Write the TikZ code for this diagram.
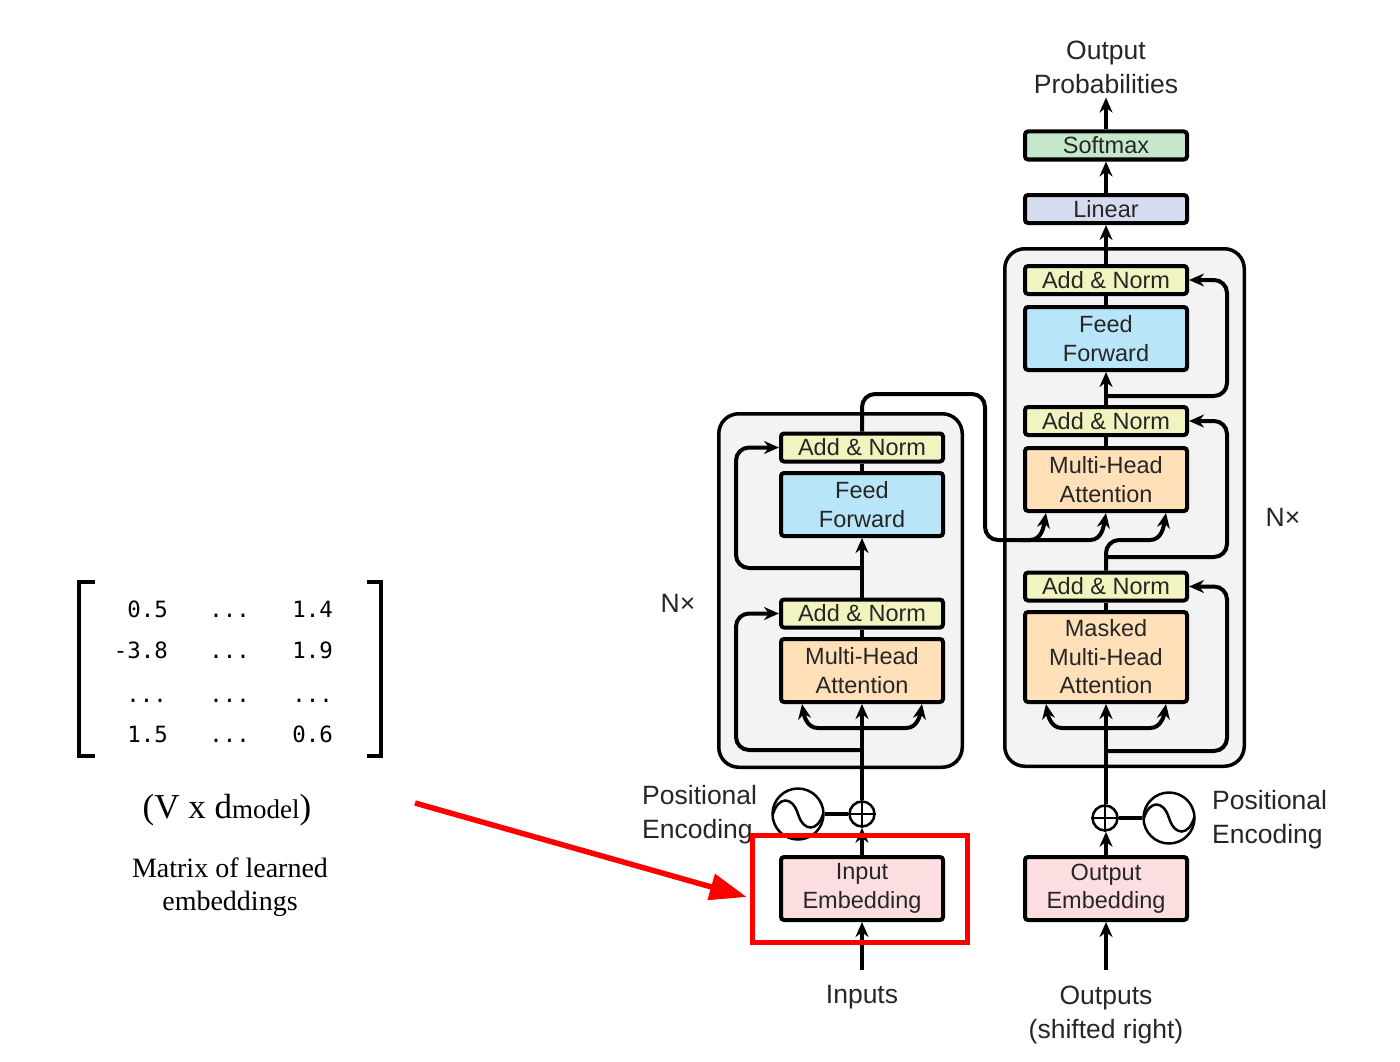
\documentclass[tikz,border=0pt]{standalone}
\usepackage{fontspec}
\setmainfont{Liberation Sans}
\newfontfamily\cellfont{DejaVu Sans Mono}
\newfontfamily\capfont{Liberation Serif}
\usetikzlibrary{arrows.meta, shapes.geometric, positioning}
\pgfdeclarelayer{bg1}
\pgfdeclarelayer{bg2}
\pgfsetlayers{bg2,bg1,main}
\definecolor{normfill}{HTML}{F1F4C0}
\definecolor{ffill}{HTML}{B8E6F8}
\definecolor{attnfill}{HTML}{FFE0B8}
\definecolor{embfill}{HTML}{FDDEE0}
\definecolor{softfill}{HTML}{C5E8CC}
\definecolor{linfill}{HTML}{D6DCF0}
\definecolor{framefill}{HTML}{F3F3F3}
\tikzset{
	box/.style = {rectangle, rounded corners = 3pt, minimum width = 162pt, draw = black, line width = 4pt, inner sep = 0pt, align = center, text = black!85, font = \fontsize{23.5}{28.5}\selectfont},
	norm/.style = {box, minimum height = 28pt, fill = normfill},
	ffwd/.style = {box, minimum height = 63pt, fill = ffill},
	attn/.style = {box, minimum height = 63pt, fill = attnfill},
	emb/.style = {box, minimum height = 63pt, fill = embfill},
	frame/.style = {rectangle, rounded corners = 20pt, draw = black, line width = 3.5pt, fill = framefill},
	label/.style = {inner sep = 0pt, align = center, text = black!85, font = \fontsize{26.5}{34}\selectfont},
	addc/.style = {circle, minimum size = 25pt, inner sep = 0pt, draw = black, line width = 2.5pt, fill = white},
	sinec/.style = {circle, minimum size = 51pt, inner sep = 0pt, draw = black, line width = 2.5pt},
	arrow/.style = {->, > = {Stealth[length = 15pt, width = 13pt]}, draw = black, line width = 4pt, rounded corners = 13pt},
	curl/.style = {arrow, sharp corners},
	link/.style = {draw = black, line width = 4pt, rounded corners = 13pt},
	thin/.style = {draw = black, line width = 2.5pt},
	brack/.style = {draw = black, line width = 4.5pt},
	cell/.style = {inner sep = 0pt, anchor = base east, font = \cellfont\fontsize{22.4}{26}\selectfont},
	redline/.style = {draw = red, line width = 5.5pt}
}
\begin{document}
\begin{tikzpicture}[x = 1pt, y = -1pt, node distance = 57pt]
	\useasboundingbox (0,0) rectangle (1400,1062);

	%% encoder
	\node (inemb) [emb] at (862,888.5) {Input\\Embedding};
	\node (enmha) [attn] at (862,670.5) {Multi-Head\\Attention};
	\node (enan1) [norm, above of=enmha] {Add \& Norm};
	\node (enff) [ffwd, above of=enan1, yshift=52pt] {Feed\\Forward};
	\node (enan2) [norm, above of=enff] {Add \& Norm};
	\node (enadd) [addc] at (862,814) {};
	\node (ensin) [sinec] at (798,814) {};
	\coordinate (enres1) at (862,750);
	\coordinate (enres2) at (862,568);
	\coordinate (enfork) at (862,728);
	\coordinate (instart) at (862,970);

	%% decoder
	\node (outemb) [emb, right of=inemb, xshift=187pt] {Output\\Embedding};
	\node (demask) [attn, minimum height=90pt] at (1106,657) {Masked\\Multi-Head\\Attention};
	\node (dean1) [norm, above of=demask, yshift=13.5pt] {Add \& Norm};
	\node (demha) [attn, above of=dean1, yshift=50pt] {Multi-Head\\Attention};
	\node (dean2) [norm, above of=demha, yshift=1.5pt] {Add \& Norm};
	\node (deff) [ffwd, above of=dean2, yshift=25.5pt] {Feed\\Forward};
	\node (dean3) [norm, above of=deff, yshift=1.5pt] {Add \& Norm};
	\node (linear) [norm, above of=dean3, yshift=14pt, fill=linfill] {Linear};
	\node (softmax) [norm, above of=linear, yshift=6.5pt, fill=softfill] {Softmax};
	\node (deadd) [addc] at (1105,818) {};
	\node (desin) [sinec] at (1169,818) {};
	\coordinate (deres1) at (1106,751);
	\coordinate (deres2) at (1106,557);
	\coordinate (deres3) at (1106,396);
	\coordinate (defork) at (1106,728);
	\coordinate (outstart) at (1106,970);
	\coordinate (crossa) at (985,394);
	\coordinate (crossb) at (985,540);
	\coordinate (crossc) at (1020,540);
	\coordinate (crossd) at (1106,540);

	% labels
	\node (outprob) [label] at (1106,67) {Output\\Probabilities};
	\node (inputs) [label] at (862,997.5) {Inputs};
	\node (outputs) [label] at (1106,1014.5) {Outputs\\(shifted right)};
	\node (enpos) [label, align=left, anchor=west] at (642,815) {Positional\\Encoding};
	\node (depos) [label, align=left, anchor=west] at (1212,820) {Positional\\Encoding};
	\node (ennx) [label] at (678,603) {N×};
	\node (denx) [label] at (1283,517) {N×};

	%% frames
	\begin{pgfonlayer}{bg2}
	\node (enframe) [frame, minimum width=243.5pt, minimum height=353.5pt] at (840.5,590.5) {};
	\node (deframe) [frame, minimum width=239.5pt, minimum height=517.5pt] at (1124.5,507.5) {};
	\end{pgfonlayer}

	%%% arrows %%%
	\begin{pgfonlayer}{bg1}
	% encoder
	\draw [arrow] (instart) -- (inemb.south);
	\draw [arrow] (inemb.north) -- (enadd.south);
	\draw [arrow] (enadd.north) -- (enmha.south);
	\draw [curl] (enfork) -- ([xshift=-44pt]enfork) to[out=180, in=-80] ([xshift=-60pt]enmha.south);
	\draw [curl] (enfork) -- ([xshift=44pt]enfork) to[out=0, in=-100] ([xshift=60pt]enmha.south);
	\draw [link] (enmha) -- (enan1);
	\draw [arrow] (enan1.north) -- (enff.south);
	\draw [link] (enff) -- (enan2);
	\draw [arrow] (enres1) -| ([xshift=-43pt]enan1.west) -- (enan1.west);
	\draw [arrow] (enres2) -| ([xshift=-43pt]enan2.west) -- (enan2.west);
	\draw [link] (ensin.east) -- (enadd.west);
	% encoder to decoder
	\draw [link] (enan2.north) |- (crossa) -- (crossb) -- (crossc);
	\draw [curl] (crossc) -- ([xshift=10pt]crossc) to[out=0, in=-100] ([xshift=-60pt]demha.south);
	\draw [curl] (crossc) -- ([xshift=70pt]crossc) to[out=0, in=-100] (demha.south);
	\draw [link] (dean1.north) -- (crossd) -- ([xshift=44pt]crossd);
	\draw [curl] ([xshift=44pt]crossd) to[out=0, in=-100] ([xshift=60pt]demha.south);
	% decoder
	\draw [arrow] (outstart) -- (outemb.south);
	\draw [arrow] (outemb.north) -- (outemb.north |- deadd.south);
	\draw [arrow] (outemb.north |- deadd.north) -- (demask.south);
	\draw [curl] (defork) -- ([xshift=-44pt]defork) to[out=180, in=-80] ([xshift=-60pt]demask.south);
	\draw [curl] (defork) -- ([xshift=44pt]defork) to[out=0, in=-100] ([xshift=60pt]demask.south);
	\draw [link] (demask) -- (dean1);
	\draw [link] (demha) -- (dean2);
	\draw [arrow] (dean2.north) -- (deff.south);
	\draw [link] (deff) -- (dean3);
	\draw [arrow] (deres1) -| ([xshift=38pt]dean1.east) -- (dean1.east);
	\draw [arrow] (deres2) -| ([xshift=38pt]dean2.east) -- (dean2.east);
	\draw [arrow] (deres3) -| ([xshift=38pt]dean3.east) -- (dean3.east);
	\draw [arrow] (dean3.north) -- (linear.south);
	\draw [arrow] (linear.north) -- (softmax.south);
	\draw [arrow, shorten >=4pt] (softmax.north) -- (outprob.south);
	\draw [link] (desin.west) -- (deadd.east);
	\end{pgfonlayer}

	% symbols
	\draw [thin] (enadd.west) -- (enadd.east);
	\draw [thin] (enadd.north) -- (enadd.south);
	\draw [thin] (deadd.west) -- (deadd.east);
	\draw [thin] (deadd.north) -- (deadd.south);
	\begin{scope}[shift={(ensin.center)}]
		\draw [thin] (-25,0) .. controls (-20,-17) and (-6,-19) .. (0,0) .. controls (6,19) and (20,17) .. (25,0);
	\end{scope}
	\begin{scope}[shift={(desin.center)}]
		\draw [thin] (-25,0) .. controls (-20,-17) and (-6,-19) .. (0,0) .. controls (6,19) and (20,17) .. (25,0);
	\end{scope}

	%% matrix
	\draw [brack] (95,582) -- (79,582) -- (79,756) -- (95,756);
	\draw [brack] (367,582) -- (381,582) -- (381,756) -- (367,756);
	\node (c11) [cell] at (168,617) {0.5};
	\node (c12) [cell] at (250,617) {...};
	\node (c13) [cell] at (333,617) {1.4};
	\node (c21) [cell] at (168,658) {-3.8};
	\node (c22) [cell] at (250,658) {...};
	\node (c23) [cell] at (333,658) {1.9};
	\node (c31) [cell] at (167,702) {...};
	\node (c32) [cell] at (250,702) {...};
	\node (c33) [cell] at (333,702) {...};
	\node (c41) [cell] at (168,742) {1.5};
	\node (c42) [cell] at (250,742) {...};
	\node (c43) [cell] at (333,742) {0.6};
	\node (dims) [inner sep=0pt, font=\capfont\fontsize{35}{40}\selectfont] at (227,810) {(V x d{\fontsize{27}{27}\selectfont model})};
	\node (caption) [inner sep=0pt, align=center, font=\capfont\fontsize{28}{33}\selectfont] at (230,887) {Matrix of learned\\embeddings};

	%% highlight
	\node (redbox) [rectangle, redline, minimum width=215pt, minimum height=107pt] at (860,889) {};
	\coordinate (redstart) at (415,803);
	\draw [redline, -{Triangle[length=37pt, width=26pt]}] (redstart) -- ([xshift=-3pt, yshift=-8pt]redbox.west);
\end{tikzpicture}
\end{document}
